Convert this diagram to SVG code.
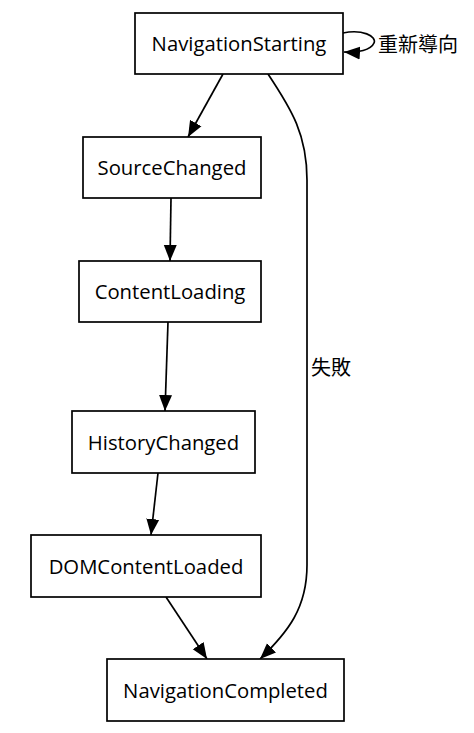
<svg xmlns="http://www.w3.org/2000/svg" width="474" height="733" viewBox="0 0 474 733">
<defs>
<style>
.node rect{fill:#fff;stroke:#000;stroke-width:1.7}
.node text{font-family:"Open Sans","Noto Sans",sans-serif;font-size:20.3px;fill:#000;text-anchor:middle;dominant-baseline:central}
.edge{fill:none;stroke:#000;stroke-width:1.7}
.lbl{font-family:"Noto Sans CJK TC","Noto Sans CJK SC",sans-serif;font-size:20px;fill:#000;dominant-baseline:central}
</style>
<marker id="arr" markerUnits="userSpaceOnUse" markerWidth="17" markerHeight="14" refX="16" refY="7" orient="auto">
<path d="M0,0.5 L16,7 L0,13.5 z" fill="#000"/>
</marker>
</defs>
<rect width="474" height="733" fill="#fff"/>
<g id="connectors">
<path class="edge" d="M223,74 L188,137" marker-end="url(#arr)"/>
<path class="edge" d="M171,198 L170,261" marker-end="url(#arr)"/>
<path class="edge" d="M168,322 L165,411" marker-end="url(#arr)"/>
<path class="edge" d="M158,473 L151,535" marker-end="url(#arr)"/>
<path class="edge" d="M166,597 L207,659" marker-end="url(#arr)"/>
<path class="edge" d="M268,74 C292,110 307,135 307,180 L307,565 C307,608 288,632 260,659" marker-end="url(#arr)"/>
<path class="edge" d="M343,33 C362,29 377,36 374,43 C371,50 358,53 344,52" marker-end="url(#arr)"/>
<text class="lbl" x="378" y="43">重新導向</text>
<text class="lbl" x="311" y="366">失敗</text>
</g>
<g id="NavigationStarting" class="node">
<rect x="135" y="13" width="208" height="61"/>
<text x="239" y="43">NavigationStarting</text>
</g>
<g id="SourceChanged" class="node">
<rect x="83" y="137" width="178" height="61"/>
<text x="172" y="167">SourceChanged</text>
</g>
<g id="ContentLoading" class="node">
<rect x="79" y="261" width="182" height="61"/>
<text x="170" y="291">ContentLoading</text>
</g>
<g id="HistoryChanged" class="node">
<rect x="72" y="411" width="183" height="62"/>
<text x="163.5" y="442">HistoryChanged</text>
</g>
<g id="DOMContentLoaded" class="node">
<rect x="31" y="535" width="230" height="62"/>
<text x="146" y="566">DOMContentLoaded</text>
</g>
<g id="NavigationCompleted" class="node">
<rect x="107" y="659" width="237" height="62"/>
<text x="225.5" y="690">NavigationCompleted</text>
</g>
</svg>
